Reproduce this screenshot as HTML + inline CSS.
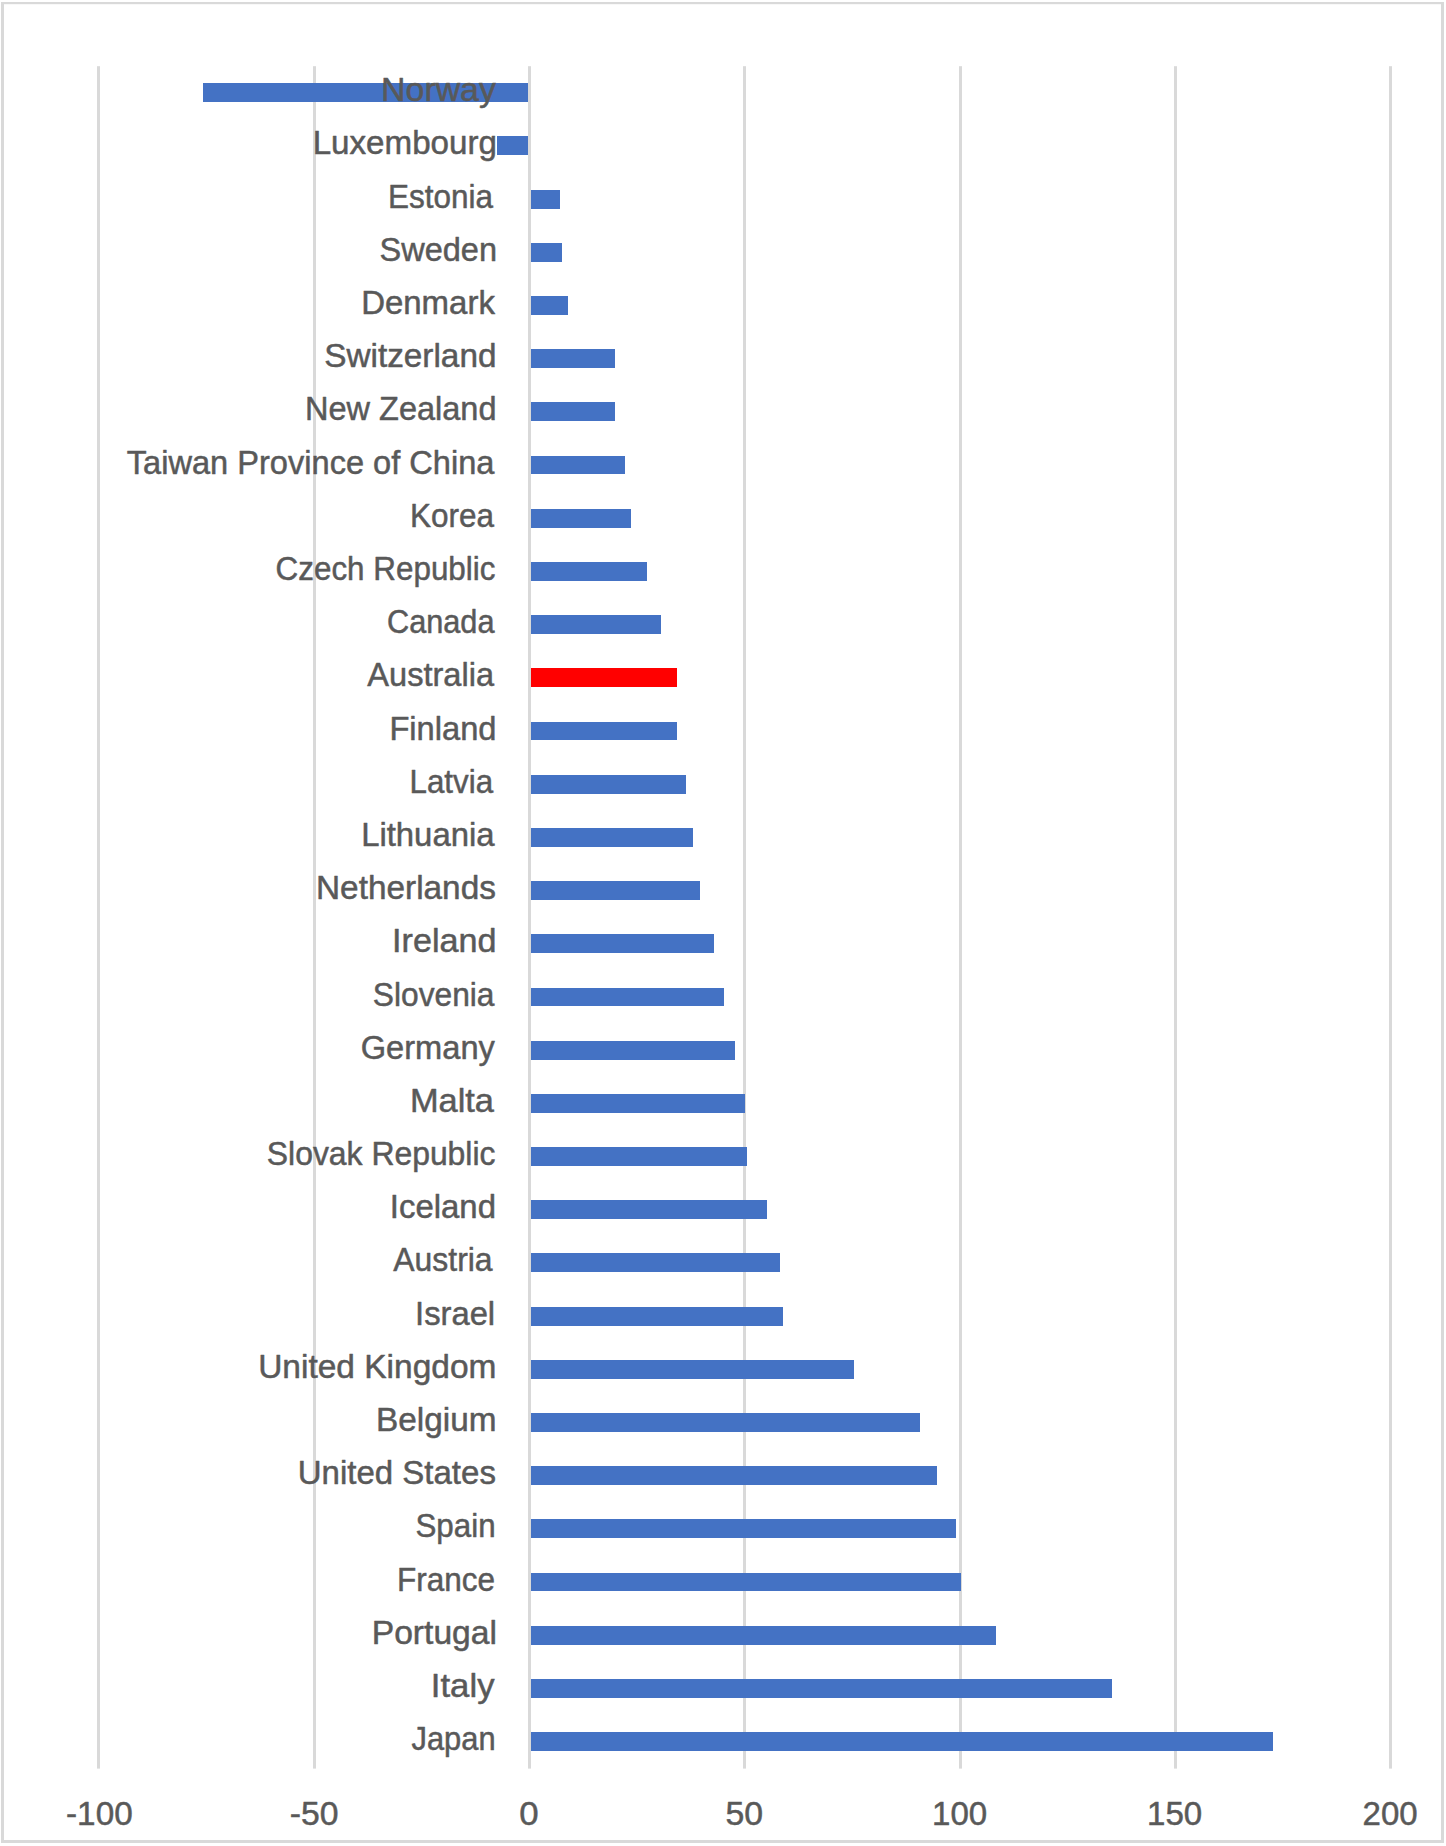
<!DOCTYPE html>
<html lang="en">
<head>
<meta charset="utf-8">
<title>General government net debt</title>
<style>
html,body{margin:0;padding:0;background:#fff;}
body{width:1446px;height:1846px;overflow:hidden;}
svg{display:block;}
text{font-family:"Liberation Sans",sans-serif;font-size:33px;fill:#595959;stroke:#595959;stroke-width:0.5px;stroke-linejoin:round;}
.g{fill:#d9d9d9;}
.b{fill:#4472c4;}
.r{fill:#ff0000;}
</style>
</head>
<body>
<svg width="1446" height="1846" viewBox="0 0 1446 1846">
<rect x="0" y="0" width="1446" height="1846" fill="#ffffff"/>
<g class="g">
<rect x="1" y="2" width="1443" height="2.2"/>
<rect x="1" y="1840" width="1443" height="3"/>
<rect x="1" y="2" width="3" height="1841"/>
<rect x="1441" y="2" width="3" height="1841"/>
<rect x="97" y="66.2" width="3" height="1702.4"/>
<rect x="313" y="66.2" width="3" height="1702.4"/>
<rect x="743" y="66.2" width="3" height="1702.4"/>
<rect x="959" y="66.2" width="3" height="1702.4"/>
<rect x="1174" y="66.2" width="3" height="1702.4"/>
<rect x="1389" y="66.2" width="3" height="1702.4"/>
</g>
<g class="b">
<rect x="203" y="83" width="325" height="19"/>
<rect x="497" y="136" width="31" height="19"/>
<rect x="531" y="190" width="29" height="19"/>
<rect x="531" y="243" width="31" height="19"/>
<rect x="531" y="296" width="37" height="19"/>
<rect x="531" y="349" width="84" height="19"/>
<rect x="531" y="402" width="84" height="19"/>
<rect x="531" y="456" width="94" height="18"/>
<rect x="531" y="509" width="100" height="19"/>
<rect x="531" y="562" width="116" height="19"/>
<rect x="531" y="615" width="130" height="19"/>
<rect class="r" x="531" y="668" width="146" height="19"/>
<rect x="531" y="722" width="146" height="18"/>
<rect x="531" y="775" width="155" height="19"/>
<rect x="531" y="828" width="162" height="19"/>
<rect x="531" y="881" width="169" height="19"/>
<rect x="531" y="934" width="183" height="19"/>
<rect x="531" y="988" width="193" height="18"/>
<rect x="531" y="1041" width="204" height="19"/>
<rect x="531" y="1094" width="214" height="19"/>
<rect x="531" y="1147" width="216" height="19"/>
<rect x="531" y="1200" width="236" height="19"/>
<rect x="531" y="1253" width="249" height="19"/>
<rect x="531" y="1307" width="252" height="19"/>
<rect x="531" y="1360" width="323" height="19"/>
<rect x="531" y="1413" width="389" height="19"/>
<rect x="531" y="1466" width="406" height="19"/>
<rect x="531" y="1519" width="425" height="19"/>
<rect x="531" y="1573" width="430" height="18"/>
<rect x="531" y="1626" width="465" height="19"/>
<rect x="531" y="1679" width="581" height="19"/>
<rect x="531" y="1732" width="742" height="19"/>
</g>
<rect class="g" x="528" y="66.2" width="3" height="1702.4"/>
<g>
<text x="381.13" y="100.60" textLength="114.69" lengthAdjust="spacingAndGlyphs">Norway</text>
<text x="312.67" y="153.60" textLength="184.31" lengthAdjust="spacingAndGlyphs">Luxembourg</text>
<text x="388.04" y="207.60" textLength="105.07" lengthAdjust="spacingAndGlyphs">Estonia</text>
<text x="379.50" y="260.60" textLength="117.48" lengthAdjust="spacingAndGlyphs">Sweden</text>
<text x="361.14" y="313.60" textLength="133.77" lengthAdjust="spacingAndGlyphs">Denmark</text>
<text x="324.19" y="366.60" textLength="172.29" lengthAdjust="spacingAndGlyphs">Switzerland</text>
<text x="305.00" y="419.60" textLength="191.51" lengthAdjust="spacingAndGlyphs">New Zealand</text>
<text x="126.81" y="473.60" textLength="367.69" lengthAdjust="spacingAndGlyphs">Taiwan Province of China</text>
<text x="409.94" y="526.60" textLength="84.06" lengthAdjust="spacingAndGlyphs">Korea</text>
<text x="275.59" y="579.60" textLength="219.89" lengthAdjust="spacingAndGlyphs">Czech Republic</text>
<text x="387.05" y="632.60" textLength="107.45" lengthAdjust="spacingAndGlyphs">Canada</text>
<text x="367.31" y="685.60" textLength="126.69" lengthAdjust="spacingAndGlyphs">Australia</text>
<text x="389.38" y="739.60" textLength="107.14" lengthAdjust="spacingAndGlyphs">Finland</text>
<text x="409.56" y="792.60" textLength="83.55" lengthAdjust="spacingAndGlyphs">Latvia</text>
<text x="361.13" y="845.60" textLength="133.38" lengthAdjust="spacingAndGlyphs">Lithuania</text>
<text x="316.02" y="898.60" textLength="179.87" lengthAdjust="spacingAndGlyphs">Netherlands</text>
<text x="392.06" y="951.60" textLength="104.47" lengthAdjust="spacingAndGlyphs">Ireland</text>
<text x="372.82" y="1005.60" textLength="121.68" lengthAdjust="spacingAndGlyphs">Slovenia</text>
<text x="360.72" y="1058.60" textLength="134.18" lengthAdjust="spacingAndGlyphs">Germany</text>
<text x="409.94" y="1111.60" textLength="84.06" lengthAdjust="spacingAndGlyphs">Malta</text>
<text x="266.81" y="1164.60" textLength="228.68" lengthAdjust="spacingAndGlyphs">Slovak Republic</text>
<text x="389.80" y="1217.60" textLength="106.22" lengthAdjust="spacingAndGlyphs">Iceland</text>
<text x="393.29" y="1270.60" textLength="99.32" lengthAdjust="spacingAndGlyphs">Austria</text>
<text x="415.04" y="1324.60" textLength="80.11" lengthAdjust="spacingAndGlyphs">Israel</text>
<text x="258.17" y="1377.60" textLength="238.30" lengthAdjust="spacingAndGlyphs">United Kingdom</text>
<text x="376.08" y="1430.60" textLength="120.47" lengthAdjust="spacingAndGlyphs">Belgium</text>
<text x="297.70" y="1483.60" textLength="198.21" lengthAdjust="spacingAndGlyphs">United States</text>
<text x="415.49" y="1536.60" textLength="80.10" lengthAdjust="spacingAndGlyphs">Spain</text>
<text x="396.90" y="1590.60" textLength="98.12" lengthAdjust="spacingAndGlyphs">France</text>
<text x="371.77" y="1643.60" textLength="125.15" lengthAdjust="spacingAndGlyphs">Portugal</text>
<text x="430.83" y="1696.60" textLength="63.68" lengthAdjust="spacingAndGlyphs">Italy</text>
<text x="411.50" y="1749.60" textLength="84.07" lengthAdjust="spacingAndGlyphs">Japan</text>
</g>
<g>
<text x="66.04" y="1824.60" textLength="66.64" lengthAdjust="spacingAndGlyphs">-100</text>
<text x="289.83" y="1824.60" textLength="48.73" lengthAdjust="spacingAndGlyphs">-50</text>
<text x="519.31" y="1824.60" textLength="19.35" lengthAdjust="spacingAndGlyphs">0</text>
<text x="725.54" y="1824.60" textLength="37.62" lengthAdjust="spacingAndGlyphs">50</text>
<text x="932.02" y="1824.60" textLength="55.18" lengthAdjust="spacingAndGlyphs">100</text>
<text x="1147.02" y="1824.60" textLength="55.18" lengthAdjust="spacingAndGlyphs">150</text>
<text x="1362.60" y="1824.60" textLength="55.08" lengthAdjust="spacingAndGlyphs">200</text>
</g>
</svg>
</body>
</html>
